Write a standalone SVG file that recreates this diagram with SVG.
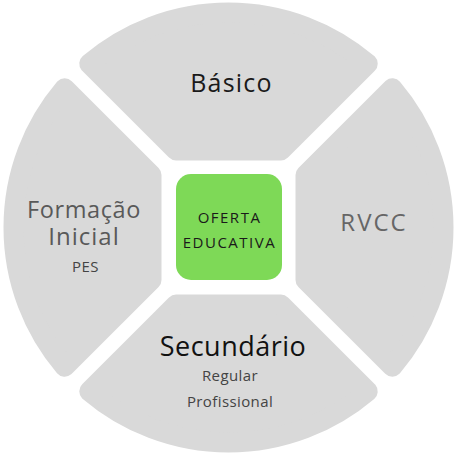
<svg xmlns="http://www.w3.org/2000/svg" width="457" height="456" viewBox="0 0 457 456">
  <style>
    .seg { fill: #D9D9D9; stroke: #D9D9D9; stroke-width: 20; stroke-linejoin: round; }
    .t { font-family: "Open Sans", "Liberation Sans", sans-serif; text-anchor: middle; }
    .big { font-size: 24px; }
    .small { font-size: 15px; fill: #444444; letter-spacing: 0.4px; }
    .center { font-size: 15px; fill: #1a1a1a; letter-spacing: 1.5px; }
  </style>
  <defs>
    <path id="segShape" d="M 176.1 150.5 L 280.9 150.5 L 367.73 63.67 A 215 215 0 0 0 89.27 63.67 Z"/>
  </defs>
  <rect width="457" height="456" fill="#FFFFFF"/>
  <g id="connectors"/>
  <g id="basico">
    <use href="#segShape" class="seg"/>
    <text class="t" x="231.5" y="92" font-size="25" letter-spacing="1.2" fill="#1a1a1a">Básico</text>
  </g>
  <g id="rvcc">
    <use href="#segShape" class="seg" transform="rotate(90 228.5 227.5)"/>
    <text class="t big" x="374" y="231" letter-spacing="2" fill="#666666">RVCC</text>
  </g>
  <g id="secundario">
    <use href="#segShape" class="seg" transform="rotate(180 228.5 227.5)"/>
    <text class="t" x="233" y="356" font-size="27" letter-spacing="0.5" fill="#111111">Secundário</text>
    <text class="t small" x="230" y="381">Regular</text>
    <text class="t small" x="230" y="407">Profissional</text>
  </g>
  <g id="formacao">
    <use href="#segShape" class="seg" transform="rotate(270 228.5 227.5)"/>
    <text class="t" x="84" y="218" font-size="23.5" letter-spacing="0.6" fill="#595959">Formação</text>
    <text class="t big" x="84" y="245" letter-spacing="1" fill="#595959">Inicial</text>
    <text class="t small" x="85.5" y="272" fill="#333333">PES</text>
  </g>
  <g id="oferta">
    <rect x="176" y="174" width="106" height="106" rx="15" fill="#7ED957"/>
    <text class="t center" x="229.5" y="223">OFERTA</text>
    <text class="t center" x="229.5" y="248">EDUCATIVA</text>
  </g>
</svg>
